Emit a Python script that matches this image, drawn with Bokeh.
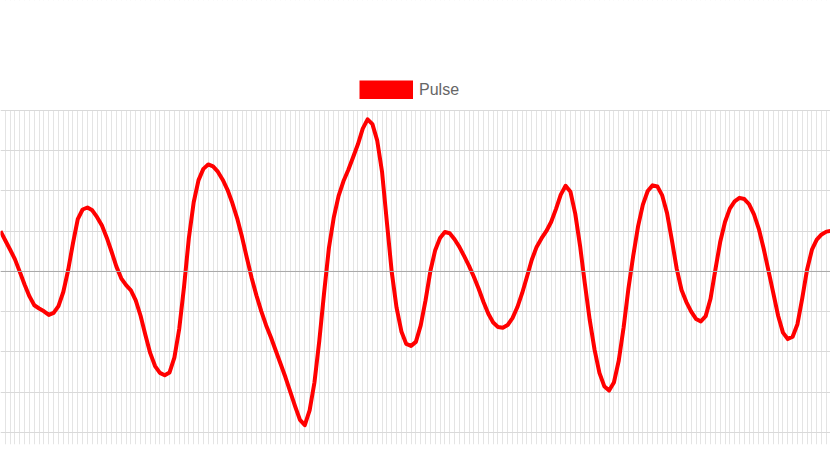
from bokeh.embed import file_html
from bokeh.models import BoxAnnotation, FixedTicker, Legend, LegendItem, Range1d, Span
from bokeh.plotting import figure
from bokeh.resources import INLINE

# pulse readings, one per sample
pulse = [
    1.00, 0.77, 0.54, 0.30, -0.01, -0.33, -0.62, -0.84, -0.92, -0.99,
    -1.08, -1.03, -0.86, -0.51, 0.03, 0.70, 1.30, 1.54, 1.59, 1.52,
    1.35, 1.14, 0.84, 0.49, 0.12, -0.17, -0.34, -0.47, -0.72, -1.10,
    -1.58, -2.03, -2.35, -2.52, -2.58, -2.51, -2.14, -1.43, -0.38, 0.83,
    1.72, 2.27, 2.55, 2.66, 2.61, 2.48, 2.28, 2.03, 1.70, 1.32,
    0.86, 0.34, -0.16, -0.60, -0.99, -1.34, -1.64, -1.97, -2.30, -2.63,
    -2.99, -3.35, -3.69, -3.82, -3.45, -2.76, -1.73, -0.53, 0.59, 1.34,
    1.88, 2.24, 2.52, 2.84, 3.16, 3.55, 3.78, 3.66, 3.25, 2.47,
    1.22, -0.01, -0.90, -1.49, -1.80, -1.85, -1.75, -1.34, -0.72, 0.01,
    0.53, 0.83, 0.98, 0.95, 0.80, 0.61, 0.38, 0.14, -0.13, -0.43,
    -0.76, -1.05, -1.27, -1.38, -1.40, -1.33, -1.16, -0.89, -0.54, -0.13,
    0.29, 0.61, 0.82, 1.00, 1.23, 1.55, 1.91, 2.13, 1.98, 1.43,
    0.63, -0.32, -1.21, -1.95, -2.52, -2.85, -2.96, -2.76, -2.22, -1.40,
    -0.43, 0.39, 1.12, 1.66, 2.00, 2.14, 2.11, 1.89, 1.45, 0.78,
    0.07, -0.46, -0.76, -1.00, -1.18, -1.24, -1.11, -0.68, 0.04, 0.73,
    1.23, 1.56, 1.74, 1.83, 1.80, 1.67, 1.42, 1.06, 0.57, 0.02,
    -0.54, -1.10, -1.52, -1.68, -1.62, -1.31, -0.66, 0.05, 0.54, 0.79,
    0.92, 0.99, 1.01,
]
samples = list(range(len(pulse)))
y_ticks = [-4, -3, -2, -1, 0, 1, 2, 3, 4]

# frame runs up to the top of the page so the legend can sit inside it
p = figure(
    width=830,
    height=467,
    output_backend="svg",
    toolbar_location=None,
    x_range=Range1d(0, 830 / 4.83),
    y_range=Range1d(-4.3, 4 + 110 / 40.24),
    min_border_left=0,
    min_border_right=0,
    min_border_top=0,
    min_border_bottom=23,
)
p.outline_line_color = None
p.xaxis.visible = False
p.yaxis.visible = False

p.xaxis.ticker = FixedTicker(ticks=samples)
p.xgrid.grid_line_color = "#e4e4e4"
p.yaxis.ticker = FixedTicker(ticks=y_ticks)
p.ygrid.grid_line_color = "#d9d9d9"
p.add_layout(Span(location=0, dimension="width", line_color="#a8a8a8", line_width=1))

# blank out the grid above the top tick
p.add_layout(BoxAnnotation(bottom=max(y_ticks) + 0.015, fill_color="white", fill_alpha=1,
                           line_color=None, level="underlay"))

p.line(samples, pulse, line_width=4, color="red", line_join="round")

# swatch only used by the legend (the box)
swatch = p.line(x=[0], y=[0], line_width=19, color="red", line_cap="butt", visible=False)

legend = Legend(
    items=[LegendItem(label="Pulse", renderers=[swatch])],
    location=(359, 345),
    orientation="horizontal",
    glyph_width=54,
    glyph_height=19,
    label_height=19,
    label_standoff=6,
    padding=0,
    margin=0,
    border_line_color=None,
    background_fill_alpha=0,
    label_text_font="Liberation Sans",
    label_text_font_size="16px",
    label_text_color="#666666",
)
p.add_layout(legend)

open("out.html", "w").write(file_html(p, INLINE))
